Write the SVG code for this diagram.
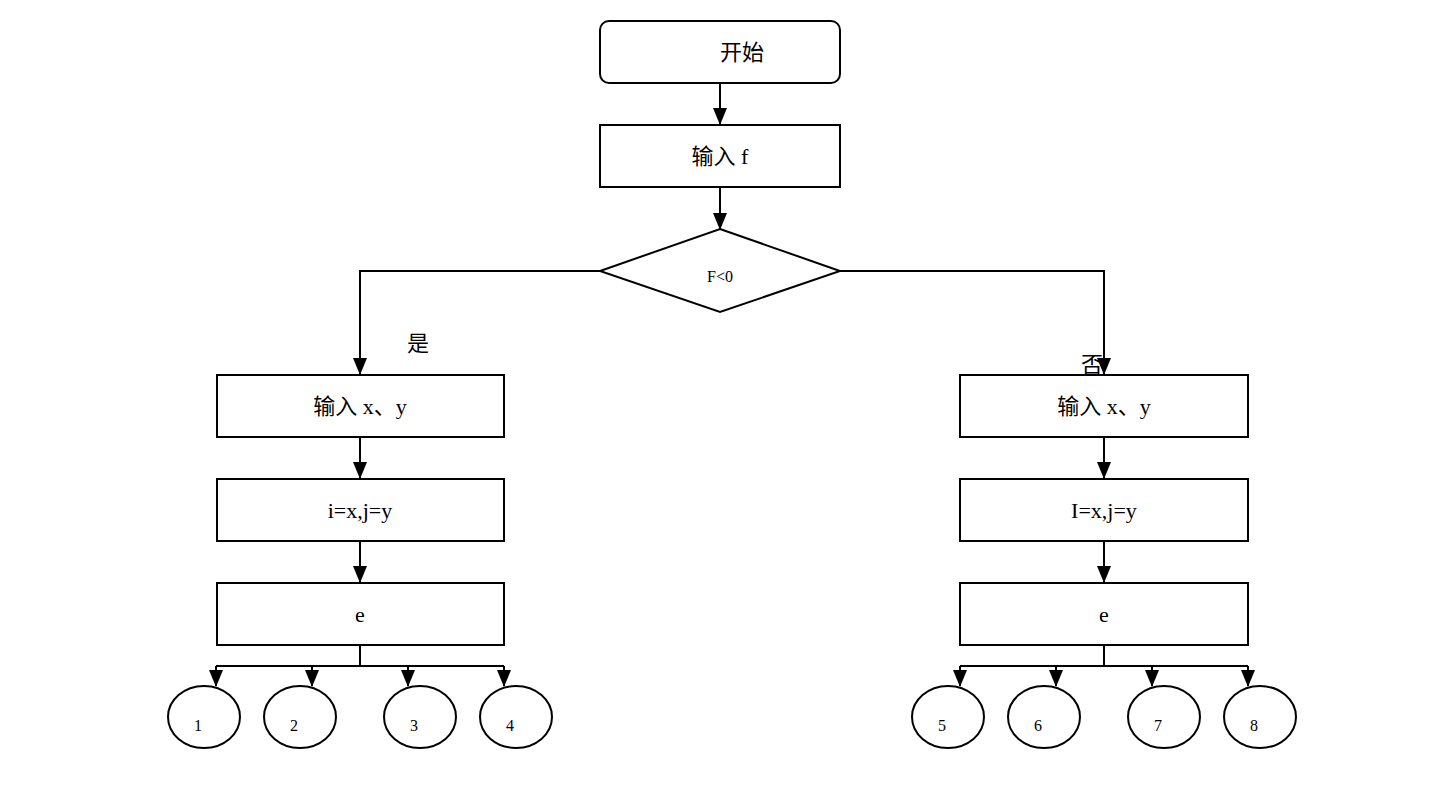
<svg xmlns="http://www.w3.org/2000/svg" width="1440" height="812" viewBox="0 0 1440 812">
<style>
.s{fill:#fff;stroke:#000;stroke-width:2}
.l{fill:none;stroke:#000;stroke-width:2}
text{font-family:"Liberation Serif","Noto Sans CJK SC",serif;font-size:22px;text-anchor:middle;fill:#000}
.sm{font-size:16px}
</style>
<defs><marker id="a" markerWidth="16" markerHeight="18" refX="8" refY="16" orient="auto-start-reverse" markerUnits="userSpaceOnUse" viewBox="0 0 16 18"><path d="M1,0 L15,0 L8,17 Z" fill="#000" transform="rotate(0)"/></marker>
<marker id="b" markerWidth="18" markerHeight="16" refX="16" refY="8" orient="auto" markerUnits="userSpaceOnUse"><path d="M0,1 L17,8 L0,15 Z" fill="#000"/></marker></defs>
<rect fill="#fff" width="1440" height="812"/>
<g id="connectors" class="l">
<path d="M720,83 V124" marker-end="url(#b)"/>
<path d="M720,188 V229" marker-end="url(#b)"/>
<path d="M600,271 H360 V374" marker-end="url(#b)"/>
<path d="M840,271 H1104 V374" marker-end="url(#b)"/>
<path d="M360,437 V478" marker-end="url(#b)"/>
<path d="M360,541 V582" marker-end="url(#b)"/>
<path d="M1104,437 V478" marker-end="url(#b)"/>
<path d="M1104,541 V582" marker-end="url(#b)"/>
<path d="M360,645 V666 M216,666 H504 M960,666 H1248 M1104,645 V666"/>
<path d="M216,666 V686" marker-end="url(#b)"/><path d="M312,666 V686" marker-end="url(#b)"/>
<path d="M408,666 V686" marker-end="url(#b)"/><path d="M504,666 V686" marker-end="url(#b)"/>
<path d="M960,666 V686" marker-end="url(#b)"/><path d="M1056,666 V686" marker-end="url(#b)"/>
<path d="M1152,666 V686" marker-end="url(#b)"/><path d="M1248,666 V686" marker-end="url(#b)"/>
</g>
<text x="418" y="351">是</text>
<text x="1092" y="372">否</text>
<g id="start"><rect class="s" x="600" y="21" width="240" height="62" rx="9"/><text x="742" y="60">开始</text></g>
<g id="inputf"><rect class="s" x="600" y="125" width="240" height="62"/><text x="720" y="164">输入 f</text></g>
<g id="cond"><polygon class="s" points="720,229 840,271 720,312 600,271"/><text class="sm" x="720" y="282">F&lt;0</text></g>
<g id="lin"><rect class="s" x="217" y="375" width="287" height="62"/><text x="360" y="414">输入 x、y</text></g>
<g id="lset"><rect class="s" x="217" y="479" width="287" height="62"/><text x="360" y="518">i=x,j=y</text></g>
<g id="le"><rect class="s" x="217" y="583" width="287" height="62"/><text x="360" y="622">e</text></g>
<g id="rin"><rect class="s" x="960" y="375" width="288" height="62"/><text x="1104" y="414">输入 x、y</text></g>
<g id="rset"><rect class="s" x="960" y="479" width="288" height="62"/><text x="1104" y="518">I=x,j=y</text></g>
<g id="re"><rect class="s" x="960" y="583" width="288" height="62"/><text x="1104" y="622">e</text></g>
<g id="n1"><ellipse class="s" cx="204" cy="717" rx="36" ry="31"/><text class="sm" x="198" y="731">1</text></g>
<g id="n2"><ellipse class="s" cx="300" cy="717" rx="36" ry="31"/><text class="sm" x="294" y="731">2</text></g>
<g id="n3"><ellipse class="s" cx="420" cy="717" rx="36" ry="31"/><text class="sm" x="414" y="731">3</text></g>
<g id="n4"><ellipse class="s" cx="516" cy="717" rx="36" ry="31"/><text class="sm" x="510" y="731">4</text></g>
<g id="n5"><ellipse class="s" cx="948" cy="717" rx="36" ry="31"/><text class="sm" x="942" y="731">5</text></g>
<g id="n6"><ellipse class="s" cx="1044" cy="717" rx="36" ry="31"/><text class="sm" x="1038" y="731">6</text></g>
<g id="n7"><ellipse class="s" cx="1164" cy="717" rx="36" ry="31"/><text class="sm" x="1158" y="731">7</text></g>
<g id="n8"><ellipse class="s" cx="1260" cy="717" rx="36" ry="31"/><text class="sm" x="1254" y="731">8</text></g>
</svg>
